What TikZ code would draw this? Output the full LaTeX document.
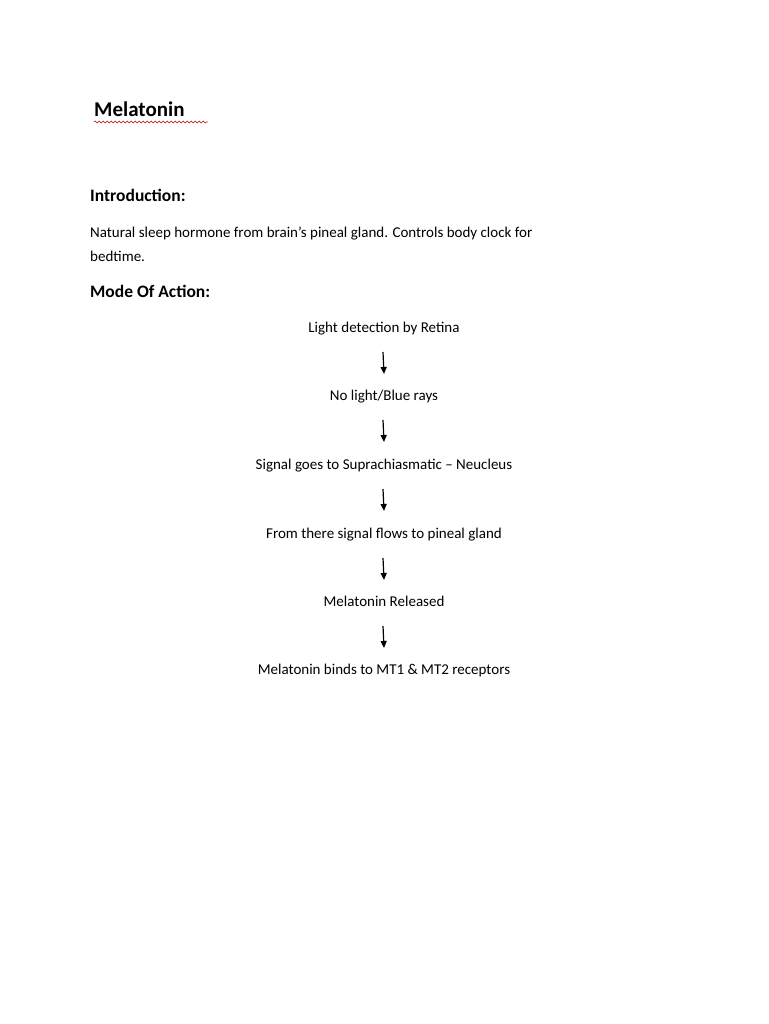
\documentclass[tikz,border=0pt]{standalone}
\usepackage{fontspec}
\setmainfont{Carlito}
\usetikzlibrary{arrows.meta,decorations.pathmorphing}
\begin{document}
\begin{tikzpicture}[x=1pt,y=-1pt,
  txt/.style={anchor=base,inner sep=0pt,font=\fontsize{15}{18}\selectfont},
  head/.style={anchor=base west,inner sep=0pt,font=\fontsize{17.5}{20}\selectfont\bfseries},
  flow/.style={txt},
  arr/.style={-{Triangle[length=7pt,width=6pt]},line width=1.2pt}]
\useasboundingbox (0,0) rectangle (768,1024);
\fill[white] (0,0) rectangle (768,1024);
\node[anchor=base west,inner sep=0pt,font=\fontsize{21}{24}\selectfont\bfseries] (title) at (94,117) {Melatonin};
\draw[red!70!black,line width=0.5pt,decorate,decoration={snake,amplitude=1pt,segment length=4pt}] (94,122) -- (208,122);
\node[head] (intro) at (90,202) {Introduction:};
\node[txt,anchor=base west] (p1) at (90,237) {Natural sleep hormone from brain's pineal gland. Controls body clock for};
\node[txt,anchor=base west] (p2) at (90,261) {bedtime.};
\node[head] (mode) at (90,297) {Mode Of Action:};
\node[flow] (f1) at (384,332) {Light detection by Retina};
\node[flow] (f2) at (384,400) {No light/Blue rays};
\node[flow] (f3) at (384,469) {Signal goes to Suprachiasmatic -- Neucleus};
\node[flow] (f4) at (384,538) {From there signal flows to pineal gland};
\node[flow] (f5) at (384,606) {Melatonin Released};
\node[flow] (f6) at (384,674) {Melatonin binds to MT1 \& MT2 receptors};
\coordinate (a1s) at (383,352); \coordinate (a1e) at (384,374);
\coordinate (a2s) at (383,420); \coordinate (a2e) at (384,442);
\coordinate (a3s) at (383,489); \coordinate (a3e) at (384,511);
\coordinate (a4s) at (383,558); \coordinate (a4e) at (384,580);
\coordinate (a5s) at (383,626); \coordinate (a5e) at (384,648);
\foreach \i in {1,...,5}{\draw[arr] (a\i s) -- (a\i e);}
\end{tikzpicture}
\end{document}
